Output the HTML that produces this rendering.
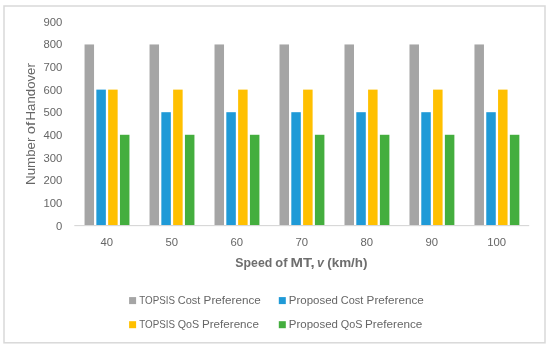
<!DOCTYPE html>
<html><head><meta charset="utf-8"><title>Number of Handover vs Speed of MT</title>
<style>
html,body{margin:0;padding:0;background:#fff;}
body{width:550px;height:348px;overflow:hidden;}
svg{display:block;}
text{font-family:"Liberation Sans",sans-serif;fill:#666666;}
.b{font-weight:bold;fill:#6e6e6e;}
.bi{font-weight:bold;font-style:italic;fill:#6e6e6e;}
</style></head><body>
<svg width="550" height="348" viewBox="0 0 550 348">
<rect x="0" y="0" width="550" height="348" fill="#ffffff"/>
<rect x="4" y="6" width="541" height="336.8" fill="none" stroke="#d9d9d9" stroke-width="1.5"/>

<rect x="84.55" y="44.46" width="9.5" height="180.64" fill="#a5a5a5"/>
<rect x="96.35" y="89.62" width="9.5" height="135.48" fill="#1f9ad7"/>
<rect x="108.15" y="89.62" width="9.5" height="135.48" fill="#ffc000"/>
<rect x="119.95" y="134.78" width="9.5" height="90.32" fill="#44ae3e"/>
<rect x="149.54" y="44.46" width="9.5" height="180.64" fill="#a5a5a5"/>
<rect x="161.34" y="112.20" width="9.5" height="112.90" fill="#1f9ad7"/>
<rect x="173.14" y="89.62" width="9.5" height="135.48" fill="#ffc000"/>
<rect x="184.94" y="134.78" width="9.5" height="90.32" fill="#44ae3e"/>
<rect x="214.52" y="44.46" width="9.5" height="180.64" fill="#a5a5a5"/>
<rect x="226.32" y="112.20" width="9.5" height="112.90" fill="#1f9ad7"/>
<rect x="238.12" y="89.62" width="9.5" height="135.48" fill="#ffc000"/>
<rect x="249.92" y="134.78" width="9.5" height="90.32" fill="#44ae3e"/>
<rect x="279.51" y="44.46" width="9.5" height="180.64" fill="#a5a5a5"/>
<rect x="291.31" y="112.20" width="9.5" height="112.90" fill="#1f9ad7"/>
<rect x="303.11" y="89.62" width="9.5" height="135.48" fill="#ffc000"/>
<rect x="314.91" y="134.78" width="9.5" height="90.32" fill="#44ae3e"/>
<rect x="344.49" y="44.46" width="9.5" height="180.64" fill="#a5a5a5"/>
<rect x="356.29" y="112.20" width="9.5" height="112.90" fill="#1f9ad7"/>
<rect x="368.09" y="89.62" width="9.5" height="135.48" fill="#ffc000"/>
<rect x="379.89" y="134.78" width="9.5" height="90.32" fill="#44ae3e"/>
<rect x="409.48" y="44.46" width="9.5" height="180.64" fill="#a5a5a5"/>
<rect x="421.28" y="112.20" width="9.5" height="112.90" fill="#1f9ad7"/>
<rect x="433.08" y="89.62" width="9.5" height="135.48" fill="#ffc000"/>
<rect x="444.88" y="134.78" width="9.5" height="90.32" fill="#44ae3e"/>
<rect x="474.46" y="44.46" width="9.5" height="180.64" fill="#a5a5a5"/>
<rect x="486.26" y="112.20" width="9.5" height="112.90" fill="#1f9ad7"/>
<rect x="498.06" y="89.62" width="9.5" height="135.48" fill="#ffc000"/>
<rect x="509.86" y="134.78" width="9.5" height="90.32" fill="#44ae3e"/>
<line x1="74.3" y1="225.65" x2="529.2" y2="225.65" stroke="#d2d2d2" stroke-width="1"/>
<text x="62.4" y="229.65" font-size="11.7" text-anchor="end" textLength="6.28" lengthAdjust="spacingAndGlyphs">0</text>
<text x="62.4" y="206.98" font-size="11.7" text-anchor="end" textLength="18.85" lengthAdjust="spacingAndGlyphs">100</text>
<text x="62.4" y="184.31" font-size="11.7" text-anchor="end" textLength="18.85" lengthAdjust="spacingAndGlyphs">200</text>
<text x="62.4" y="161.64" font-size="11.7" text-anchor="end" textLength="18.85" lengthAdjust="spacingAndGlyphs">300</text>
<text x="62.4" y="138.97" font-size="11.7" text-anchor="end" textLength="18.85" lengthAdjust="spacingAndGlyphs">400</text>
<text x="62.4" y="116.30" font-size="11.7" text-anchor="end" textLength="18.85" lengthAdjust="spacingAndGlyphs">500</text>
<text x="62.4" y="93.63" font-size="11.7" text-anchor="end" textLength="18.85" lengthAdjust="spacingAndGlyphs">600</text>
<text x="62.4" y="70.96" font-size="11.7" text-anchor="end" textLength="18.85" lengthAdjust="spacingAndGlyphs">700</text>
<text x="62.4" y="48.29" font-size="11.7" text-anchor="end" textLength="18.85" lengthAdjust="spacingAndGlyphs">800</text>
<text x="62.4" y="25.62" font-size="11.7" text-anchor="end" textLength="18.85" lengthAdjust="spacingAndGlyphs">900</text>
<text x="106.79" y="246.4" font-size="11.3" text-anchor="middle">40</text>
<text x="171.78" y="246.4" font-size="11.3" text-anchor="middle">50</text>
<text x="236.76" y="246.4" font-size="11.3" text-anchor="middle">60</text>
<text x="301.75" y="246.4" font-size="11.3" text-anchor="middle">70</text>
<text x="366.74" y="246.4" font-size="11.3" text-anchor="middle">80</text>
<text x="431.72" y="246.4" font-size="11.3" text-anchor="middle">90</text>
<text x="496.71" y="246.4" font-size="11.3" text-anchor="middle">100</text>
<text x="235.36" y="267.4" font-size="12.4" class="b" textLength="36.91" lengthAdjust="spacingAndGlyphs">Speed</text>
<text x="275.36" y="267.4" font-size="12.4" class="b" textLength="12.14" lengthAdjust="spacingAndGlyphs">of</text>
<text x="290.54" y="267.4" font-size="12.4" class="b" textLength="24.05" lengthAdjust="spacingAndGlyphs">MT,</text>
<text x="316.97" y="267.4" font-size="12.4" class="bi" textLength="6.89" lengthAdjust="spacingAndGlyphs">v</text>
<text x="327.23" y="267.4" font-size="12.4" class="b" textLength="40.30" lengthAdjust="spacingAndGlyphs">(km/h)</text>
<g transform="translate(35.4,183.9) rotate(-90)">
<text x="-1.03" y="0" font-size="12.3" textLength="47.29" lengthAdjust="spacingAndGlyphs">Number</text>
<text x="49.59" y="0" font-size="12.3" textLength="12.53" lengthAdjust="spacingAndGlyphs">of</text>
<text x="63.47" y="0" font-size="12.3" textLength="57.28" lengthAdjust="spacingAndGlyphs">Handover</text>
</g>
<rect x="129.1" y="297.1" width="7.0" height="7.0" fill="#a5a5a5"/>
<text x="139.24" y="303.9" font-size="11.3" textLength="35.77" lengthAdjust="spacingAndGlyphs">TOPSIS</text>
<text x="177.73" y="303.9" font-size="11.3" textLength="22.52" lengthAdjust="spacingAndGlyphs">Cost</text>
<text x="203.60" y="303.9" font-size="11.3" textLength="57.16" lengthAdjust="spacingAndGlyphs">Preference</text>
<rect x="129.1" y="321.2" width="7.0" height="7.0" fill="#ffc000"/>
<text x="139.24" y="327.85" font-size="11.3" textLength="35.77" lengthAdjust="spacingAndGlyphs">TOPSIS</text>
<text x="177.72" y="327.85" font-size="11.3" textLength="21.43" lengthAdjust="spacingAndGlyphs">QoS</text>
<text x="201.98" y="327.85" font-size="11.3" textLength="56.91" lengthAdjust="spacingAndGlyphs">Preference</text>
<rect x="278.8" y="297.1" width="7.0" height="7.0" fill="#1f9ad7"/>
<text x="288.84" y="303.9" font-size="11.3" textLength="49.18" lengthAdjust="spacingAndGlyphs">Proposed</text>
<text x="340.86" y="303.9" font-size="11.3" textLength="22.52" lengthAdjust="spacingAndGlyphs">Cost</text>
<text x="366.60" y="303.9" font-size="11.3" textLength="57.16" lengthAdjust="spacingAndGlyphs">Preference</text>
<rect x="278.8" y="321.2" width="7.0" height="7.0" fill="#44ae3e"/>
<text x="288.84" y="327.85" font-size="11.3" textLength="49.18" lengthAdjust="spacingAndGlyphs">Proposed</text>
<text x="340.85" y="327.85" font-size="11.3" textLength="21.68" lengthAdjust="spacingAndGlyphs">QoS</text>
<text x="364.97" y="327.85" font-size="11.3" textLength="57.42" lengthAdjust="spacingAndGlyphs">Preference</text>
</svg></body></html>
